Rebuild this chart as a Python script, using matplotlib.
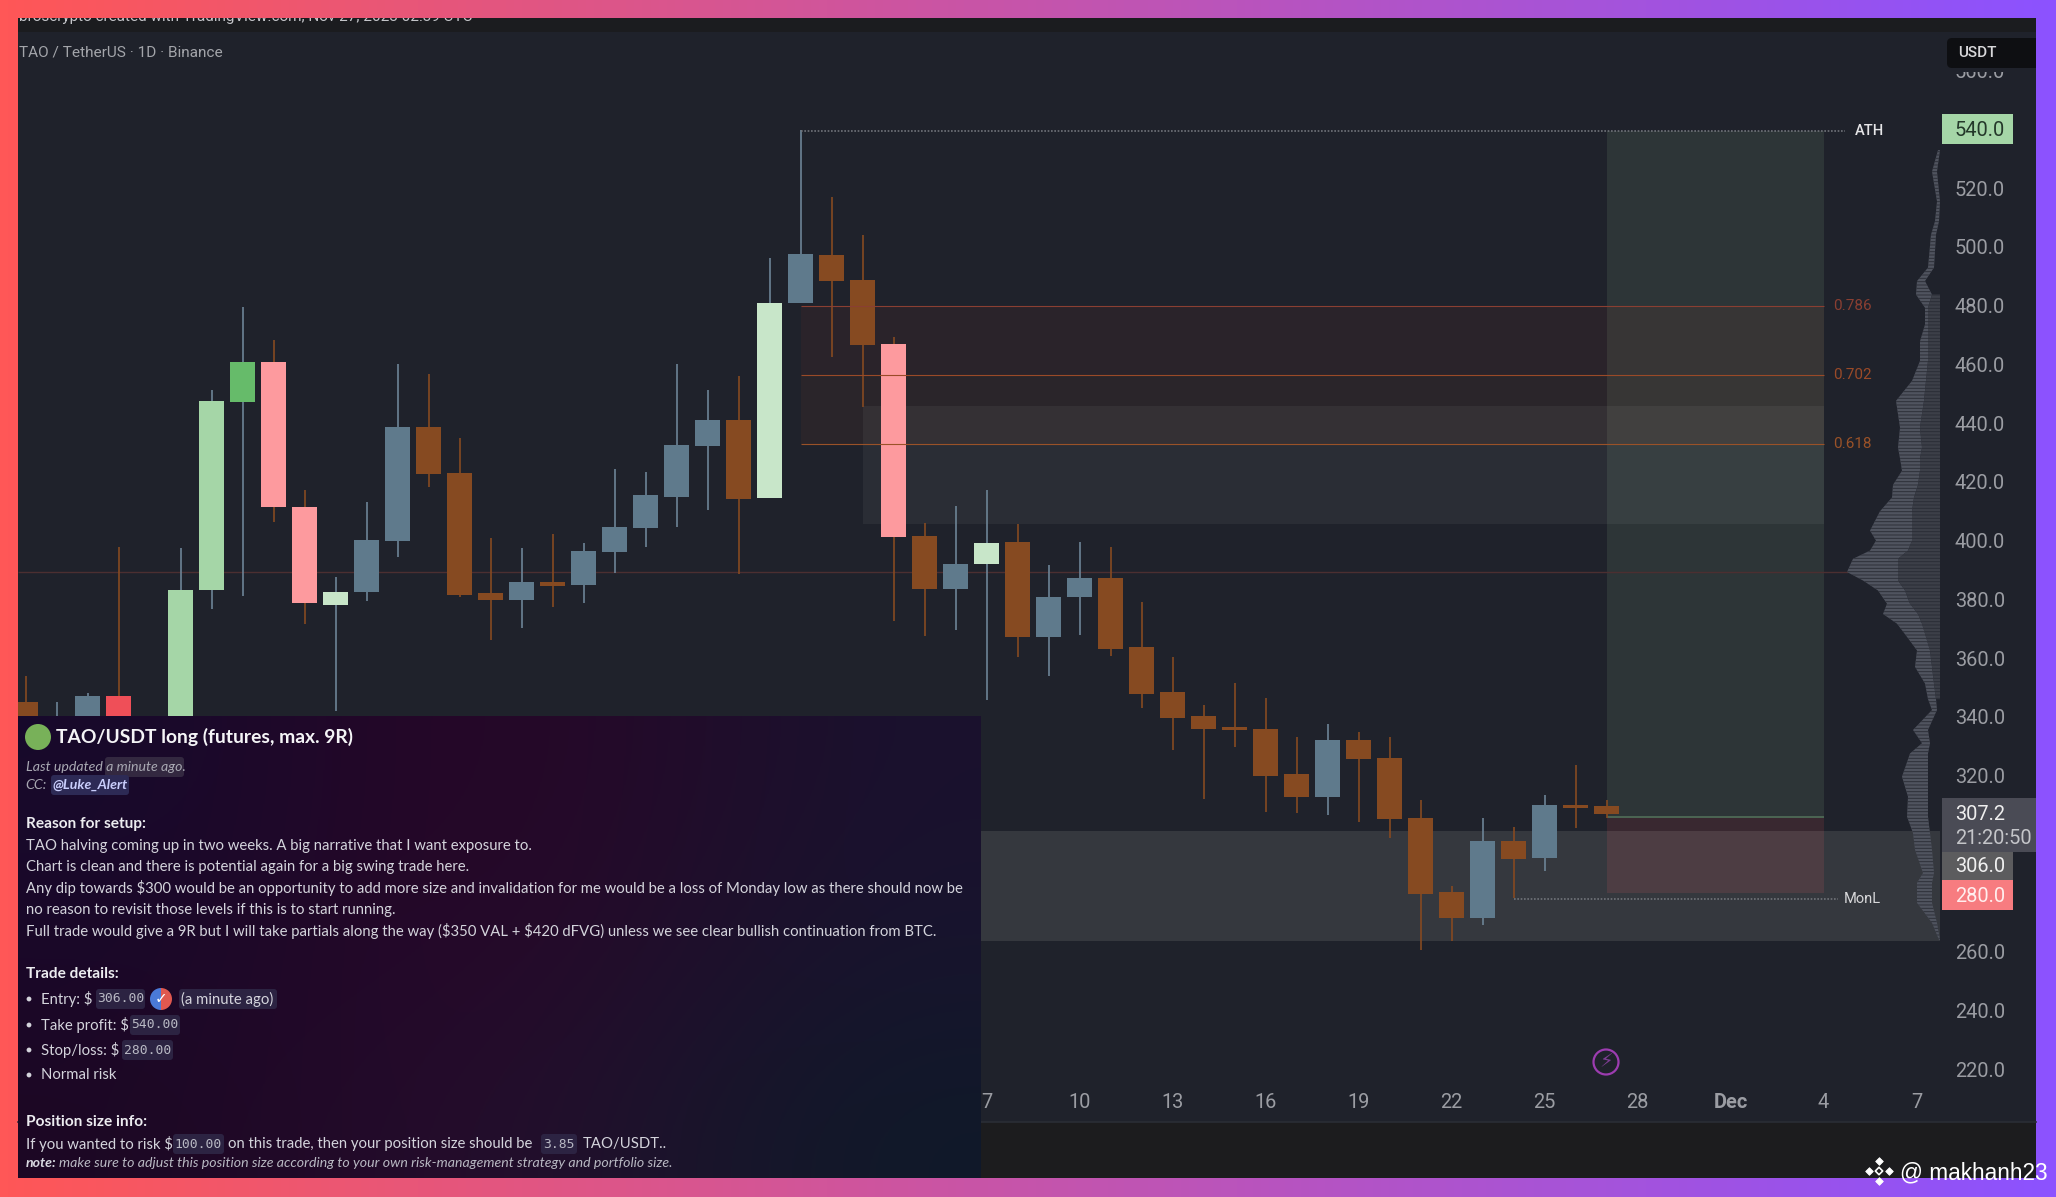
import numpy as np
import matplotlib
matplotlib.use("Agg")
import matplotlib.pyplot as plt
from matplotlib.colors import LinearSegmentedColormap
from matplotlib.patches import Rectangle, Circle, Wedge, FancyBboxPatch

# ---------- data ----------
idx = list(range(-25, 27))
tops = [345, 335, 347, 347, 330, 383.3, 447.5, 461, 460.8, 411.6, 382.6, 400.2, 438.8, 438.8, 423, 382.1, 386, 386,
        396.3, 404.6, 415.5, 432.6, 441.2, 441.2, 480.9, 497.7, 497.3, 488.7, 466.9, 401.5, 392.1, 399.3,
        399.6, 380.8, 387.3, 387.2, 363.6, 348.3, 340.2, 336.4, 335.8, 320.5, 332, 332, 326.1, 305.6, 280.2, 297.7,
        297.7, 309.8, 309.8, 309.7]
bottoms = [330, 330, 335, 335, 325, 325, 383.2, 447.2, 411.6, 378.7, 378.2, 382.6, 399.8, 422.8, 381.6, 379.9, 379.9, 384.7,
           384.9, 396.2, 404.3, 414.8, 432.2, 414.2, 414.5, 480.8, 488.4, 466.6, 401.3, 383.5, 383.5, 391.9,
           367.2, 367.2, 380.8, 363.1, 347.7, 339.7, 336, 335.5, 319.9, 312.5, 312.5, 325.5, 305.1, 279.6, 271.5, 271.6,
           291.4, 291.9, 309, 307]
highs = [353.9, 345, 348, 397.8, 332, 397.5, 451.3, 479.4, 468.3, 417.2, 387.7, 413, 460.2, 456.8, 434.8, 401, 397.6, 402.4,
         399.3, 424.4, 423.4, 460.2, 451.3, 456, 496.2, 539.8, 516.9, 504, 469.5, 405.9, 411.9, 417.3,
         405.5, 391.7, 399.4, 397.9, 379, 360.4, 344.1, 351.4, 346.4, 333.2, 337.5, 334.8, 333.2, 311.6, 282.5, 305.6,
         302.6, 313.4, 323.6, 311.6]
lows = [325, 325, 330, 330, 320, 320, 376.8, 381, 406.2, 371.6, 342, 379.4, 394.4, 418.4, 380.7, 366.2, 370.1, 377.3,
        378.7, 388.8, 397.9, 404.8, 410.5, 388.5, 414.5, 480.8, 462.5, 445.4, 372.6, 367.4, 369.5, 345.6,
        360.3, 353.9, 367.8, 360.7, 342.9, 328.7, 312, 329.8, 307.6, 307.1, 306.4, 304.1, 298.8, 260.7, 263.6, 269,
        278.4, 287.5, 302.1, 305.6]
kinds = ['b', 's', 's', 'r', 's', 'l', 'l', 'g', 'p', 'p', 'w', 's', 's', 'b', 'b', 'b', 's', 'b',
         's', 's', 's', 's', 's', 'b', 'w', 's', 'b', 'b', 'p', 'b', 's', 'w',
         'b', 's', 's', 'b', 'b', 'b', 'b', 'b', 'b', 'b', 's', 'b', 'b', 'b', 'b', 's',
         'b', 's', 'b', 'b']

price_ticks = [220, 240, 260, 320, 340, 360, 380, 400, 420, 440, 460, 480, 500, 520, 560]
day_ticks = [6, 9, 12, 15, 18, 21, 24, 27, 30, 33, 36]
day_labels = ["7", "10", "13", "16", "19", "22", "25", "28", "Dec", "4", "7"]

ath = 539.5
entry = 306.0
stop = 280.0
monl = 278.0
fib_levels = [479.9, 456.4, 432.9]
fib_names = ["0.786", "0.702", "0.618"]
upper_zone = (405.7, 445.8)
lower_zone = (263.6, 301.0)
red_line = 389.3

vp_prices = [264, 269.8, 276.6, 283.4, 286.8, 294.7, 300.4, 306, 312.8, 319.6, 327.5, 331, 335.5, 342.3, 346, 351.3, 357,
             362.6, 367.2, 371.7, 375, 378.5, 383, 386.4, 389.3, 393.8, 396.6, 400, 403.4, 410, 414.7, 419, 423.8, 428,
             431.7, 438.5, 447.6, 454.4, 461.2, 467.9, 473.6, 479.3, 483.8, 488.4, 493, 504.2, 508.8, 515.5, 525.7, 533]
vp_total = [1, 8, 23, 23, 17, 25, 27, 33, 32, 38, 30, 18, 27, 8, 12, 15, 25,
            23, 33, 43, 57, 53, 62, 77, 93, 87, 70, 64, 70, 60, 48, 47, 38, 40,
            42, 40, 44, 28, 20, 20, 15, 15, 24, 23, 12, 9, 5, 3, 8, 2]
vp_inner = [0, 3, 8, 8, 6, 8, 10, 12, 12, 12, 12, 10, 12, 3, 4, 6, 8,
            10, 14, 18, 22, 30, 35, 42, 42, 42, 32, 28, 28, 28, 26, 22, 20, 20,
            18, 20, 16, 14, 12, 12, 12, 12, 8, 15, 6, 4, 1, 0, 3, 0]

# ---------- layout ----------
W, H = 2056, 1197
L, R, T, B = 18, 2036, 32, 1122
X0, PX_DAY = 800.5, 31.0
Y400, PX_P = 540.6, 2.936
BG = "#1f222b"
TICK = "#9b9da3"
body_col = {'b': '#864a21', 's': '#5f7a8c', 'l': '#a5d6a7', 'g': '#66bb6a', 'p': '#fd9a9e', 'r': '#ef4f58', 'w': '#c8e6c9'}
wick_col = {'b': '#864a21', 's': '#6d8496', 'l': '#6d8496', 'g': '#6d8496', 'p': '#864a21', 'r': '#864a21', 'w': '#6d8496'}


def fax(l, t, r, b, **kw):
    return fig.add_axes([l / W, 1 - b / H, (r - l) / W, (b - t) / H], **kw)


plt.rcParams["hatch.linewidth"] = 0.7
fig = plt.figure(figsize=(W / 100, H / 100), dpi=100)

# outer gradient border
abg = fax(0, 0, W, H, zorder=0)
abg.set_axis_off()
cm = LinearSegmentedColormap.from_list("edge", ["#ff5757", "#8c52ff"])
abg.imshow(np.linspace(0, 1, 512)[None, :], aspect="auto", cmap=cm, extent=(0, W, H, 0))

# main chart
ax = fax(L, T, R, B, zorder=1, facecolor=BG)
ax.set_xlim((L - X0) / PX_DAY, (R - X0) / PX_DAY)
ax.set_ylim(400 - (B - Y400) / PX_P, 400 + (Y400 - T) / PX_P)
for s in ax.spines.values():
    s.set_visible(False)

# zones
ax.fill_between([26, 33], entry, ath, color=(0.50, 0.65, 0.50), alpha=0.15, lw=0, zorder=1)
ax.fill_between([26, 33], stop, entry, color=(0.86, 0.31, 0.31), alpha=0.14, lw=0, zorder=1)
ax.fill_between([0, 33], fib_levels[1], fib_levels[0], color=(0.75, 0.22, 0.13), alpha=0.07, lw=0, zorder=1)
ax.fill_between([0, 33], fib_levels[2], fib_levels[1], color=(0.75, 0.30, 0.13), alpha=0.07, lw=0, zorder=1)
ax.fill_between([2, 33], *upper_zone, color="white", alpha=0.05, lw=0, zorder=1)
ax.fill_between([-8, 36.76], *lower_zone, color=(1, 1, 0.92), alpha=0.10, lw=0, zorder=1)

ax.hlines(red_line, ax.get_xlim()[0], 33.8, color="#4c2f31", lw=1, zorder=1.5)
ax.hlines(entry, 26, 33, color="#4c6653", lw=1.4, zorder=1.5)

# candles
for i, t, b, h, l, k in zip(idx, tops, bottoms, highs, lows, kinds):
    ax.vlines(i, l, h, color=wick_col[k], lw=1.2, zorder=2)
    ax.bar(i, t - b, bottom=b, width=0.8, color=body_col[k], lw=0, zorder=3)

# annotation lines
ax.hlines(ath, 0, 33.7, color="#70737a", lw=1.2, linestyles=(0, (1, 1)), zorder=4)
ax.hlines(monl, 23, 33.47, color="#70737a", lw=1.2, linestyles=(0, (1, 1)), zorder=4)
fib_cols = ["#8a3f32", "#9a4a28", "#9a5228"]
for lv, nm, c in zip(fib_levels, fib_names, fib_cols):
    ax.hlines(lv, 0, 33, color=c, lw=0.8, zorder=4)
    ax.text(33.3, lv, nm, color=c, fontsize=11, family="Roboto", va="center", ha="left", zorder=5)
ax.text(34.0, ath, "ATH", color="#e6e6e8", fontsize=10.5, family="Roboto", weight="medium", va="center", zorder=5)
ax.text(33.65, monl, "MonL", color="#d8d8da", fontsize=10.5, family="Roboto", va="center", zorder=5)

# axes ticks
ax.yaxis.tick_right()
ax.set_yticks(price_ticks)
ax.set_yticklabels([f"{p:.1f}" for p in price_ticks], family="Roboto", fontsize=14.4, color=TICK)
ax.set_xticks(day_ticks)
ax.set_xticklabels(day_labels, family="Roboto", fontsize=14.4, color=TICK)
ax.get_xticklabels()[8].set_fontweight("bold")
ax.tick_params(axis="y", length=0, pad=-(R - 1955) * 0.72)
ax.tick_params(axis="x", length=0, pad=-(B - 1093) * 0.72)

# volume profile
avp = fax(1800, T, 1940, B, zorder=2)
avp.patch.set_alpha(0)
avp.set_axis_off()
avp.set_xlim(140, 0)
avp.set_ylim(ax.get_ylim())
pr = np.array(vp_prices)
tot = np.array(vp_total, float)
inn = np.array(vp_inner, float)
avp.fill_betweenx(pr, inn, tot, facecolor="#50545f", edgecolor="#2d3039", hatch="-----", lw=0)
avp.fill_betweenx(pr, 0, inn, facecolor="#3c3f48", edgecolor="#2a2d36", hatch="-----", lw=0,
                  where=(pr >= 346) & (pr <= 484))

# overlay furniture in pixel coordinates
ov = fax(0, 0, W, H, zorder=3)
ov.patch.set_alpha(0)
ov.set_axis_off()
ov.set_xlim(0, W)
ov.set_ylim(H, 0)

ov.add_patch(Rectangle((L, B), R - L, 56, fc="#1c1c1e", lw=0))
ov.plot([L, R], [B, B], color="#2a2d35", lw=1.2)
ov.add_patch(Rectangle((L, 18), R - L, 14, fc="#1b1c1f", lw=0))
ov.text(19, 52.5, "TAO / TetherUS · 1D · Binance", color="#a3a5aa", fontsize=11.1, family="Roboto", va="center")


def badge(x0, y0, x1, y1, fc, label, col, tx=1955):
    ov.add_patch(Rectangle((x0, y0), x1 - x0, y1 - y0, fc=fc, lw=0))
    ov.text(tx, (y0 + y1) / 2 + 1, label, color=col, fontsize=14.4, family="Roboto", va="center")


badge(1942, 114, 2013, 144, "#a5d6a7", "540.0", "#24382a")
ov.add_patch(Rectangle((1942, 798), 94, 54, fc="#4a4b55", lw=0))
ov.text(1955, 815, "307.2", color="#eeeeee", fontsize=14.4, family="Roboto", va="center")
ov.text(1955, 838, "21:20:50", color="#c4c5c9", fontsize=14.4, family="Roboto", va="center")
badge(1942, 852, 2013, 880, "#5c5c5e", "306.0", "#f0f0f0")
badge(1942, 880, 2013, 910, "#f77c80", "280.0", "#ffeeee")

ov.add_patch(Rectangle((1940, 56), 96, 16, fc=BG, lw=0))
usdt = FancyBboxPatch((1950, 41), 100, 24, boxstyle="round,pad=3,rounding_size=5", fc="#0e0f12", lw=0)
ov.add_patch(usdt)
usdt.set_clip_path(Rectangle((1900, 30), 136, 50, transform=ov.transData))
ov.text(1958, 53, "USDT", color="#d8d8da", fontsize=11, family="Roboto", weight="medium", va="center")

# bolt icon
ov.add_patch(Circle((1606, 1062), 12.5, fc="none", ec="#9c3cb0", lw=1.6))
ov.text(1606, 1062, "\u26a1", color="#7d3d92", fontsize=14, family="DejaVu Sans", ha="center", va="center")

# watermark
ov.text(1900, 1173, "@ makhanh23", color="white", fontsize=16.3, family="Liberation Sans", va="center")
for dx, dy, s in [(0, -10, 15), (0, 10, 15), (-10, 0, 15), (10, 0, 15)]:
    ov.scatter(1879 + dx, 1171 + dy, marker="D", s=s, facecolor="white", edgecolor="white", lw=0.6)
ov.scatter(1879, 1171, marker="D", s=14, facecolor="none", edgecolor="white", lw=1.2)

# clipped export line at the very top
hd = fax(L, 18, R, 32, zorder=3.5)
hd.patch.set_alpha(0)
hd.set_axis_off()
hd.set_xlim(L, R)
hd.set_ylim(32, 18)
hd.text(473, 17, "broscrypto created with TradingView.com, Nov 27, 2023 02:39 UTC", color="#c4c5c9",
        fontsize=11, family="Roboto", ha="right", va="center", clip_on=True)

# message panel
PL, PT, PR, PB = L, 716, 981, 1178
ap = fax(PL, PT, PR, PB, zorder=4)
ap.set_axis_off()
grid = np.array([[(0.09, 0.04, 0.17), (0.17, 0.02, 0.15), (0.10, 0.07, 0.18)],
                 [(0.10, 0.03, 0.16), (0.17, 0.03, 0.16), (0.09, 0.08, 0.18)],
                 [(0.11, 0.03, 0.14), (0.16, 0.05, 0.18), (0.06, 0.10, 0.16)]])
ap.imshow(grid, aspect="auto", interpolation="bicubic", extent=(PL, PR, PB, PT))

tx = fax(0, 0, W, H, zorder=5)
tx.patch.set_alpha(0)
tx.set_axis_off()
tx.set_xlim(0, W)
tx.set_ylim(H, 0)

SANS = "Lato"
MONO = "DejaVu Sans Mono"
BODY = "#d4d4dc"
FS = 10.7
FB = 11.1
FI = 10.15


def put(x, y, s, col=BODY, fs=FS, fam=SANS, **kw):
    tx.text(x, y, s, color=col, fontsize=fs, family=fam, va="center", parse_math=False, **kw)


def chip(x0, x1, y, label=None, fc="#2c2342", col="#b9b9c4"):
    tx.add_patch(FancyBboxPatch((x0, y - 10), x1 - x0, 20, boxstyle="round,pad=0,rounding_size=3", fc=fc, lw=0))
    if label:
        tx.text((x0 + x1) / 2, y, label, color=col, fontsize=9.4, family=MONO, va="center", ha="center")


tx.add_patch(Circle((38, 737), 13, fc="#78b159", lw=0))
put(56, 737, "TAO/USDT long (futures, max. 9R)", col="#f4f4f6", fs=13.9, weight="bold")
chip(105, 184, 767, fc="#332840")
put(25.5, 767, "Last updated a minute ago.", col="#a8a8b2", fs=FI, style="italic")
chip(51, 129, 785, fc="#2d2a55")
put(25.5, 785, "CC:", col="#a8a8b2", fs=FI, style="italic")
put(52, 785, "@Luke_Alert", col="#c9cdfb", fs=FI, style="italic", weight="bold")

reason_lines = ["TAO halving coming up in two weeks. A big narrative that I want exposure to.",
                "Chart is clean and there is potential again for a big swing trade here.",
                "Any dip towards $300 would be an opportunity to add more size and invalidation for me would be a loss of Monday low as there should now be",
                "no reason to revisit those levels if this is to start running.",
                "Full trade would give a 9R but I will take partials along the way ($350 VAL + $420 dFVG) unless we see clear bullish continuation from BTC."]
reason_ys = [846, 867, 888, 910, 931]
put(25.5, 824, "Reason for setup:", col="#ececf0", fs=FB, weight="bold")
for y, s in zip(reason_ys, reason_lines):
    put(25.5, y, s)

put(25.5, 974, "Trade details:", col="#ececf0", fs=FB, weight="bold")
for y in (999, 1025, 1050, 1075):
    tx.add_patch(Circle((29, y), 2.4, fc=BODY, lw=0))
put(41, 999, "Entry: $")
chip(96, 145, 999, "306.00")
tx.add_patch(Wedge((161, 999), 11, 90, 270, fc="#4a7ad8", lw=0))
tx.add_patch(Wedge((161, 999), 11, 270, 90, fc="#e0584f", lw=0))
tx.text(161, 999, "\u2713", color="white", fontsize=11, family="DejaVu Sans", ha="center", va="center", weight="bold")
chip(179, 277, 999, fc="#2c2342")
put(181, 999, "(a minute ago)")
put(41, 1025, "Take profit: $")
chip(130, 180, 1025, "540.00")
put(41, 1050, "Stop/loss: $")
chip(122, 173, 1050, "280.00")
put(41, 1075, "Normal risk")

put(25.5, 1122, "Position size info:", col="#ececf0", fs=FB, weight="bold")
put(25.5, 1144, "If you wanted to risk $")
chip(173, 224, 1144, "100.00")
put(228, 1144, "on this trade, then your position size should be")
chip(541, 577, 1144, "3.85")
put(583, 1144, "TAO/USDT..")
put(25.5, 1163, "note:", col="#d8d8e0", fs=FI, style="italic", weight="bold")
put(59, 1163, "make sure to adjust this position size according to your own risk-management strategy and portfolio size.",
    col="#b8b8c2", fs=FI, style="italic")

fig.savefig("out.png", dpi=100)
